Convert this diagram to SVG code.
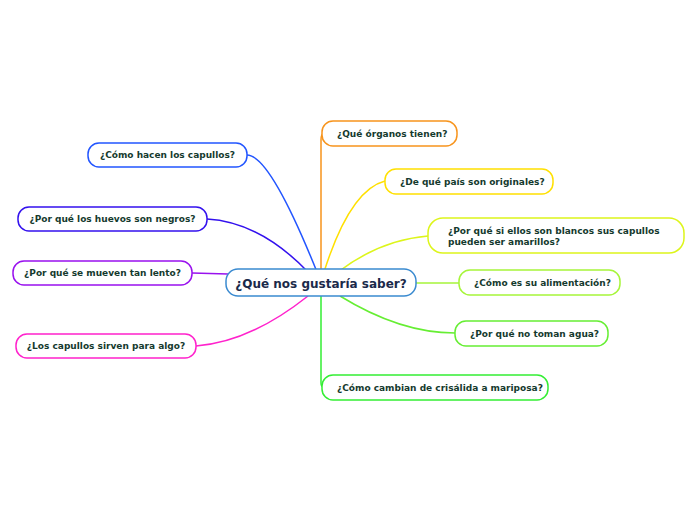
<svg xmlns="http://www.w3.org/2000/svg" width="696" height="520" viewBox="0 0 696 520">
<style>
.n{fill:#fff;stroke-width:1.5}
.t{font-family:"DejaVu Sans",Verdana,sans-serif;font-weight:bold;font-size:9px;fill:#153a2e}
.c{fill:none;stroke-width:1.5}
</style>
<rect width="696" height="520" fill="#fff"/>
<g id="connectors">
<path class="c" stroke="#f7941d" d="M321,272 L321,140 Q321,134 324,133"/>
<path class="c" stroke="#ffe000" d="M324,272 Q350,190 385,181"/>
<path class="c" stroke="#ddf51b" d="M338,272 Q380,240 428,236"/>
<path class="c" stroke="#a6f53a" stroke-width="2" d="M416,283 L459,283"/>
<path class="c" stroke="#66ee33" d="M340,296 Q400,333 455,333"/>
<path class="c" stroke="#33ee33" d="M321,296 L321,383 Q321,387 324,387"/>
<path class="c" stroke="#2255ff" d="M247,155 Q270,155 317,272"/>
<path class="c" stroke="#3311ee" d="M207,219 Q260,222 308,272"/>
<path class="c" stroke="#9911ee" d="M192,273 L228,274"/>
<path class="c" stroke="#ff22cc" d="M196,346 Q250,342 308,296"/>
</g>
<g id="center"><rect x="226" y="269" width="190" height="27" rx="12" class="n" stroke="#3a8ad0"/><text x="321" y="287.5" text-anchor="middle" style="font-family:'DejaVu Sans',Verdana,sans-serif;font-weight:bold;font-size:12px;fill:#1b2a4a">¿Qué nos gustaría saber?</text></g>
<g id="n1"><rect x="322" y="121" width="135" height="25" rx="11" class="n" stroke="#f7941d"/><text x="337" y="136.5" class="t">¿Qué órganos tienen?</text></g>
<g id="n2"><rect x="385" y="169" width="168" height="25" rx="11" class="n" stroke="#ffe000"/><text x="400" y="184.5" class="t">¿De qué país son originales?</text></g>
<g id="n3"><rect x="428" y="218" width="256" height="35" rx="15" class="n" stroke="#ddf51b"/><text x="448" y="233.5" class="t">¿Por qué si ellos son blancos sus capullos</text><text x="448" y="244.5" class="t">pueden ser amarillos?</text></g>
<g id="n4"><rect x="459" y="270" width="161" height="25" rx="11" class="n" stroke="#a6f53a"/><text x="474" y="285.5" class="t">¿Cómo es su alimentación?</text></g>
<g id="n5"><rect x="455" y="321" width="153" height="25" rx="11" class="n" stroke="#66ee33"/><text x="470" y="336.5" class="t">¿Por qué no toman agua?</text></g>
<g id="n6"><rect x="322" y="375" width="226" height="25" rx="11" class="n" stroke="#33ee33"/><text x="337" y="390.5" class="t">¿Cómo cambian de crisálida a mariposa?</text></g>
<g id="n7"><rect x="88" y="143" width="159" height="24" rx="11" class="n" stroke="#2255ff"/><text x="167.5" y="158" text-anchor="middle" class="t">¿Cómo hacen los capullos?</text></g>
<g id="n8"><rect x="18" y="207" width="189" height="24" rx="11" class="n" stroke="#3311ee"/><text x="112.5" y="222" text-anchor="middle" class="t">¿Por qué los huevos son negros?</text></g>
<g id="n9"><rect x="13" y="261" width="179" height="24" rx="11" class="n" stroke="#9911ee"/><text x="102.5" y="276" text-anchor="middle" class="t">¿Por qué se mueven tan lento?</text></g>
<g id="n10"><rect x="16" y="334" width="180" height="24" rx="11" class="n" stroke="#ff22cc"/><text x="106" y="349" text-anchor="middle" class="t">¿Los capullos sirven para algo?</text></g>
</svg>
